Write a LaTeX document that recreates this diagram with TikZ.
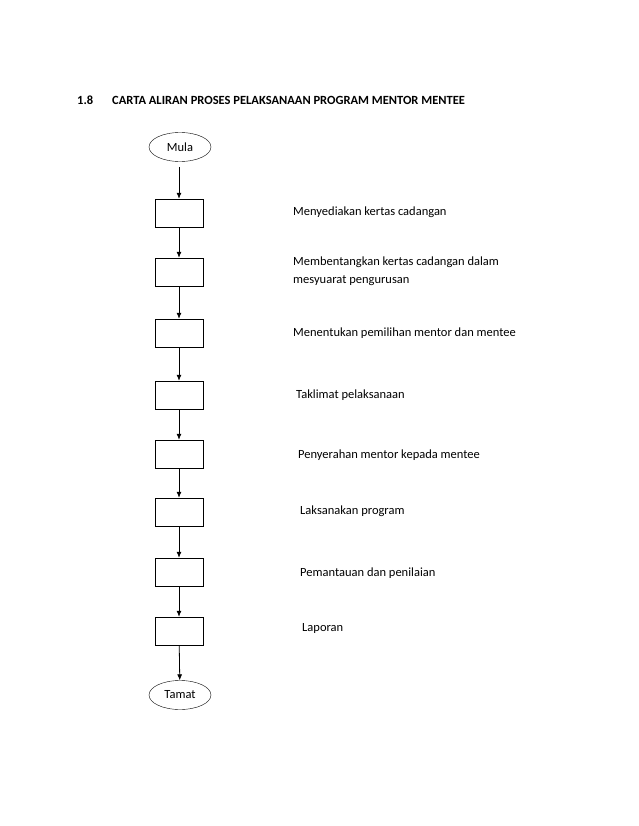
\documentclass[tikz,border=0pt]{standalone}
\usepackage{fontspec}
\setmainfont{Carlito}
\usetikzlibrary{shapes.geometric,arrows.meta}
\begin{document}
\begin{tikzpicture}[x=1pt,y=-1pt,
  every node/.style={font=\fontsize{12.5}{18}\selectfont},
  stepbox/.style={draw,minimum width=48pt,minimum height=28pt,inner sep=0pt},
  term/.style={draw,ellipse,minimum width=62pt,minimum height=29pt,inner sep=0pt},
  lbl/.style={anchor=west,align=left,inner sep=0pt},
  arr/.style={-{Latex[length=6pt,width=5pt]},thick}]
\useasboundingbox (0,0) rectangle (638,826);
\node[anchor=west,inner sep=0pt,font=\fontsize{12.5}{18}\selectfont\bfseries] (num) at (77,100) {1.8};
\node[anchor=west,inner sep=0pt,font=\fontsize{12.5}{18}\selectfont\bfseries] (title) at (112,100) {CARTA ALIRAN PROSES PELAKSANAAN PROGRAM MENTOR MENTEE};
\node[term] (mula) at (180,147) {Mula};
\node[stepbox] (b1) at (179,213) {};
\node[stepbox] (b2) at (179,272) {};
\node[stepbox] (b3) at (179,333) {};
\node[stepbox] (b4) at (179,395) {};
\node[stepbox] (b5) at (179,454) {};
\node[stepbox] (b6) at (179,512) {};
\node[stepbox] (b7) at (179,572) {};
\node[stepbox] (b8) at (179,631) {};
\node[term] (tamat) at (180,695) {Tamat};
\coordinate (s0) at (179,167);
\draw[arr] (s0) -- (b1.north);
\draw[arr] (b1) -- (b2);
\draw[arr] (b2) -- (b3);
\draw[arr] (b3) -- (b4);
\draw[arr] (b4) -- (b5);
\draw[arr] (b5) -- (b6);
\draw[arr] (b6) -- (b7);
\draw[arr] (b7) -- (b8);
\draw[arr] (b8) -- (tamat);
\node[lbl] (t1) at (293,212) {Menyediakan kertas cadangan};
\node[lbl] (t2) at (293,271) {Membentangkan kertas cadangan dalam\\mesyuarat pengurusan};
\node[lbl] (t3) at (293,333) {Menentukan pemilihan mentor dan mentee};
\node[lbl] (t4) at (296,395) {Taklimat pelaksanaan};
\node[lbl] (t5) at (298,455) {Penyerahan mentor kepada mentee};
\node[lbl] (t6) at (300,511) {Laksanakan program};
\node[lbl] (t7) at (300,573) {Pemantauan dan penilaian};
\node[lbl] (t8) at (302,628) {Laporan};
\end{tikzpicture}
\end{document}
